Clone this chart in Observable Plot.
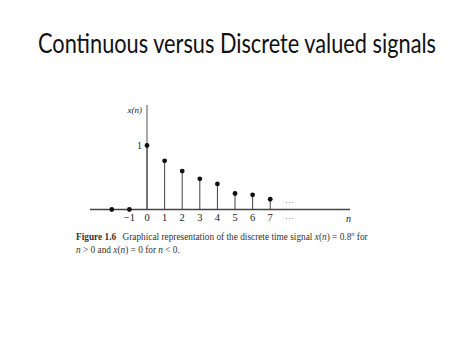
<!DOCTYPE html>
<html>
<head>
<meta charset="utf-8">
<script src="https://cdn.jsdelivr.net/npm/d3@7"></script>
<script src="https://cdn.jsdelivr.net/npm/@observablehq/plot@0.6"></script>
<style>
  html, body { margin: 0; padding: 0; background: #fff; width: 474px; height: 355px; overflow: hidden; }
  #title { position: relative; height: 80px; white-space: nowrap;
           font-family: Lato, "Open Sans", sans-serif; font-size: 27px; color: #111; line-height: 32px; }
  #title span { position: absolute; left: 237px; top: 27px; transform-origin: 0 50%; }
  #chart svg { display: block; }
  #caption { margin-left: 76px; margin-top: 3px; font-family: "Liberation Serif", "DejaVu Serif", serif;
             font-size: 9.3px; line-height: 12.5px; color: #333; white-space: nowrap; }
  #caption b { font-weight: bold; margin-right: 4px; }
</style>
</head>
<body>
<div id="title"><span id="tt">Continuous versus Discrete valued signals</span></div>
<div id="chart"></div>
<div id="caption"><b>Figure 1.6</b> Graphical representation of the discrete time signal <i>x</i>(<i>n</i>) = 0.8<sup style="font-size:6.5px"><i>n</i></sup> for<br><i>n</i> &gt; 0 and <i>x</i>(<i>n</i>) = 0 for <i>n</i> &lt; 0.</div>
<script>
// Sample indices and values
const n = [-2, -1, 0, 1, 2, 3, 4, 5, 6, 7];
const xn = [0, 0, 1, 0.76, 0.6, 0.48, 0.4, 0.25, 0.23, 0.16];
const tickLabels = ["\u22121", "0", "1", "2", "3", "4", "5", "6", "7"];
const tickN = [-1, 0, 1, 2, 3, 4, 5, 6, 7];

const data = n.map((v, i) => ({n: v, x: xn[i]}));
const ticks = tickN.map((v, i) => ({n: v, label: tickLabels[i]}));

const ink = "#222";
const serif = "'Liberation Serif', 'DejaVu Serif', serif";

const plot = Plot.plot({
  width: 474,
  height: 145,
  marginLeft: 90,
  marginRight: 124,
  marginTop: 25,
  marginBottom: 16,
  x: {domain: [-3.21, 11.56], axis: null},
  y: {domain: [0, 1.625], axis: null},
  style: {fontFamily: serif, background: "#fff"},
  marks: [
    Plot.ruleY([0], {stroke: "#444", strokeWidth: 1.6}),
    Plot.ruleX([0], {y1: 0, y2: 1.625, stroke: "#555", strokeWidth: 1}),
    Plot.ruleX(data.filter(d => d.x > 0), {x: "n", y1: 0, y2: "x", stroke: "#444", strokeWidth: 1}),
    Plot.dot(data, {x: "n", y: "x", r: 2.4, fill: "#111", stroke: "none"}),
    Plot.text(ticks, {x: "n", y: 0, text: "label", dy: 8.5, fontSize: 10.5, fill: ink}),
    Plot.text(["\u00b7\u00b7\u00b7"], {x: 8.1, y: 0, dy: 8.5, text: d => d, fontSize: 9, fill: "#555"}),
    Plot.text(["\u00b7\u00b7\u00b7"], {x: 8.1, y: 0, dy: -7, text: d => d, fontSize: 9, fill: "#555"}),
    Plot.text(["n"], {x: 11.45, y: 0, dy: 9, text: d => d, fontSize: 10, fontStyle: "italic", fill: ink}),
    Plot.text(["1"], {x: -0.43, y: 1, text: d => d, fontSize: 10, fill: ink}),
    Plot.text(["x(n)"], {x: -0.7, y: 1.56, text: d => d, fontSize: 9, fontStyle: "italic", fill: ink})
  ]
});
document.getElementById("chart").appendChild(plot);

// fit title to the reference's width (~398px), centred at x = 237
const tt = document.getElementById("tt");
const w = tt.getBoundingClientRect().width;
const s = 398 / w;
tt.style.transform = `translateX(${-199}px) scaleX(${s})`;
</script>
</body>
</html>
